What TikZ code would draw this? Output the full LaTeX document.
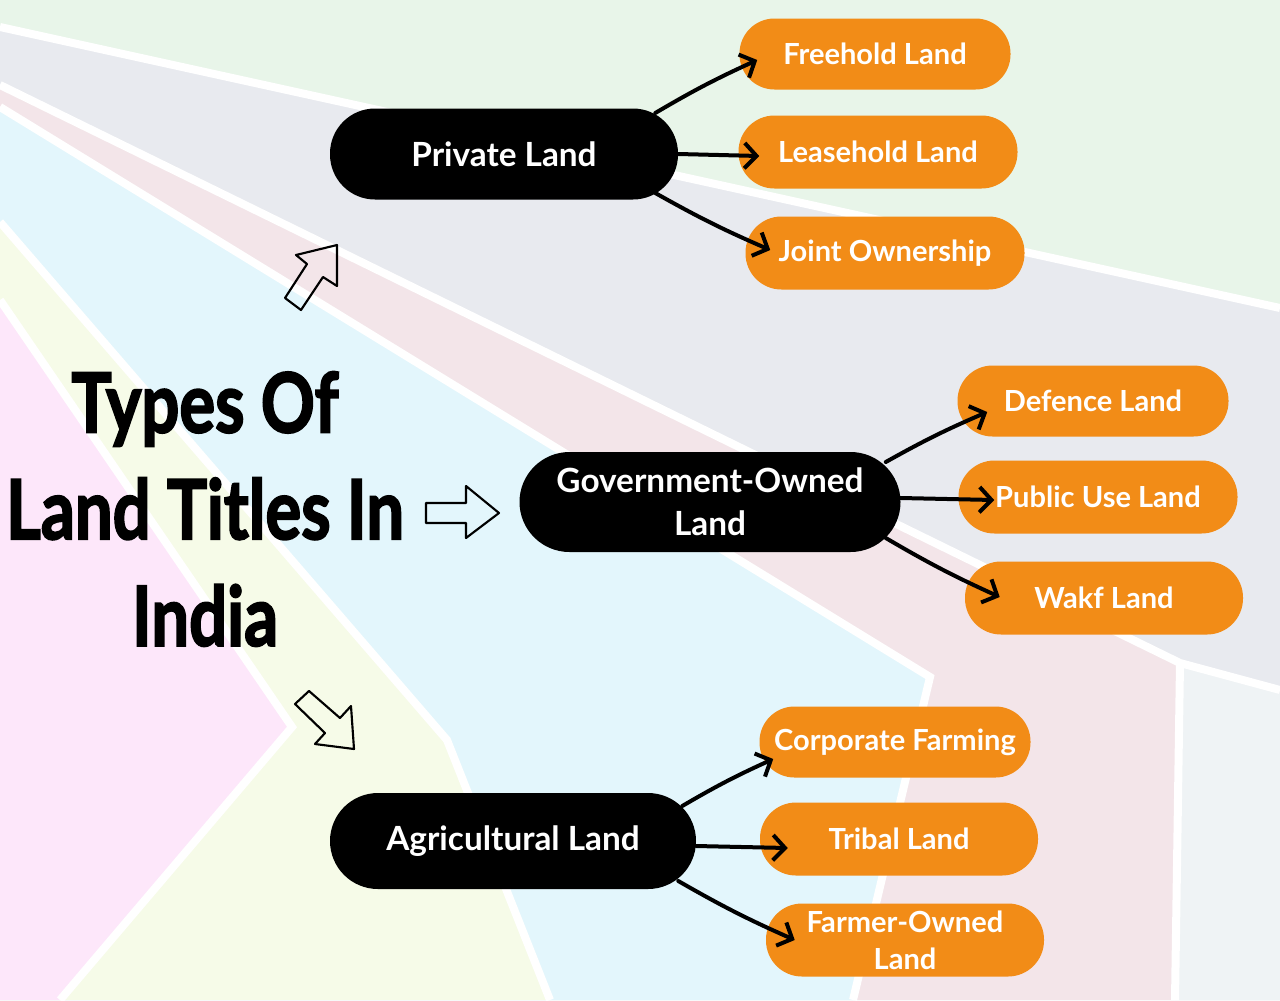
\documentclass[tikz,border=0pt]{standalone}
\usepackage{fontspec}
\setmainfont{Lato}
\newfontfamily\titlefont[BoldFeatures={FakeBold=2.5}]{Lato}
\usetikzlibrary{arrows.meta}
\definecolor{bggreen}{HTML}{E8F5E9}
\definecolor{bggrey}{HTML}{E8EAEF}
\definecolor{bgpink}{HTML}{F3E5E9}
\definecolor{bgblue}{HTML}{E3F6FC}
\definecolor{bgyellow}{HTML}{F6FBE8}
\definecolor{bgmagenta}{HTML}{FDE7FA}
\definecolor{bgslate}{HTML}{EFF3F5}
\definecolor{pillorange}{HTML}{F28C17}
\newdimen\pxu \pxu=0.75pt
\tikzset{
  mainpill/.style={fill=black, text=white, rounded corners=45\pxu, inner sep=0pt,
    align=center, font=\bfseries\fontsize{25}{32}\selectfont},
  subpill/.style={fill=pillorange, text=white, rounded corners=36\pxu, inner sep=0pt,
    align=center, minimum height=73\pxu, font=\bfseries\fontsize{21.8}{28}\selectfont},
  conn/.style={draw=black, line width=3pt, line cap=round, line join=round,
    -{Straight Barb[length=9pt,width=19pt,line width=3pt]}},
  sep/.style={draw=white, line width=6pt, line join=miter},
  blockarrow/.style={draw=black, line width=1.6pt, line join=round, fill=none},
}
\begin{document}
\begin{tikzpicture}[x=0.75pt,y=-0.75pt]
\useasboundingbox (0,0) rectangle (1280,1000);
% background regions
\fill[bggreen] (0,0) rectangle (1280,1000);
\fill[bggrey] (0,27) -- (1280,308) -- (1280,1000) -- (0,1000) -- cycle;
\fill[bgpink] (0,85) -- (1180,663) -- (1280,690) -- (1280,1000) -- (0,1000) -- cycle;
\fill[bgslate] (1180,663) -- (1280,690) -- (1280,1000) -- (1175,1000) -- cycle;
\fill[bgblue] (0,107) -- (930,677) -- (853,1000) -- (0,1000) -- cycle;
\fill[bgyellow] (0,222) -- (447,740) -- (550,1000) -- (0,1000) -- cycle;
\fill[bgmagenta] (0,300) -- (292,727) -- (60,1000) -- (0,1000) -- cycle;
% white separators
\draw[sep] (0,27) -- (1280,308);
\draw[sep] (0,85) -- (1180,663) -- (1280,690);
\draw[sep] (1180,663) -- (1175,1000);
\draw[sep] (0,107) -- (930,677) -- (853,1000);
\draw[sep] (0,222) -- (447,740) -- (550,1000);
\draw[sep] (0,300) -- (292,727) -- (60,1000);

% title
\node[transform shape, xscale=0.81, align=center,
      font=\titlefont\bfseries\fontsize{62}{80}\selectfont, text=black] (title) at (205,509)
  {Types Of\\Land Titles In\\India};

% block arrows
\draw[blockarrow] (337,245) -- (296,255) -- (307,264) -- (285,298) -- (301,310) -- (323,277) -- (337,286) -- cycle;
\draw[blockarrow] (426,503) -- (466,503) -- (466,486) -- (499,513) -- (466,538) -- (466,523) -- (426,523) -- cycle;
\draw[blockarrow] (309,691) -- (340,718) -- (351,706) -- (354,749) -- (315,744) -- (325,733) -- (295,704) -- cycle;

% main nodes
\node[mainpill, minimum width=348\pxu, minimum height=91\pxu] (pl) at (504,154) {Private Land};
\node[mainpill, minimum width=381\pxu, minimum height=100\pxu, rounded corners=50\pxu] (gl) at (710,502) {Government-Owned\\Land};
\node[mainpill, minimum width=366\pxu, minimum height=96\pxu, rounded corners=48\pxu] (al) at (513,841) {Agricultural Land};

% sub nodes
\node[subpill, minimum width=271\pxu, minimum height=71\pxu, rounded corners=35\pxu] (fh) at (875,54) {Freehold Land};
\node[subpill, minimum width=279\pxu] (lh) at (878,152) {Leasehold Land};
\node[subpill, minimum width=279\pxu] (jo) at (885,253) {Joint Ownership};
\node[subpill, minimum width=271\pxu, minimum height=71\pxu, rounded corners=35\pxu] (dl) at (1093,401) {Defence Land};
\node[subpill, minimum width=279\pxu] (pu) at (1098,497) {Public Use Land};
\node[subpill, minimum width=278\pxu] (wl) at (1104,598) {Wakf Land};
\node[subpill, minimum width=271\pxu, minimum height=71\pxu, rounded corners=35\pxu] (cf) at (895,742) {Corporate Farming};
\node[subpill, minimum width=278\pxu] (tl) at (899,839) {Tribal Land};
\node[subpill, minimum width=278\pxu] (fo) at (905,940) {Farmer-Owned\\Land};

% connectors
\draw[conn] ([shift={(-23,-41)}]pl.east) to[bend left=3] ([shift={(18,6)}]fh.west);
\draw[conn] (pl.east) to ([shift={(21,4)}]lh.west);
\draw[conn] ([shift={(-23,39)}]pl.east) to[bend right=3] ([shift={(25,-3)}]jo.west);

\draw[conn] ([shift={(-15,-40)}]gl.east) to[bend left=3] ([shift={(30,11)}]dl.west);
\draw[conn] ([shift={(0,-4)}]gl.east) to ([shift={(36,3)}]pu.west);
\draw[conn] ([shift={(-15,36)}]gl.east) to[bend right=3] ([shift={(35,-1)}]wl.west);

\draw[conn] ([shift={(-14,-35)}]al.east) to[bend left=3] ([shift={(14,17)}]cf.west);
\draw[conn] ([shift={(0,5)}]al.east) to ([shift={(28,9)}]tl.west);
\draw[conn] ([shift={(-18,40)}]al.east) to[bend right=3] ([shift={(29,0)}]fo.west);
\end{tikzpicture}
\end{document}
